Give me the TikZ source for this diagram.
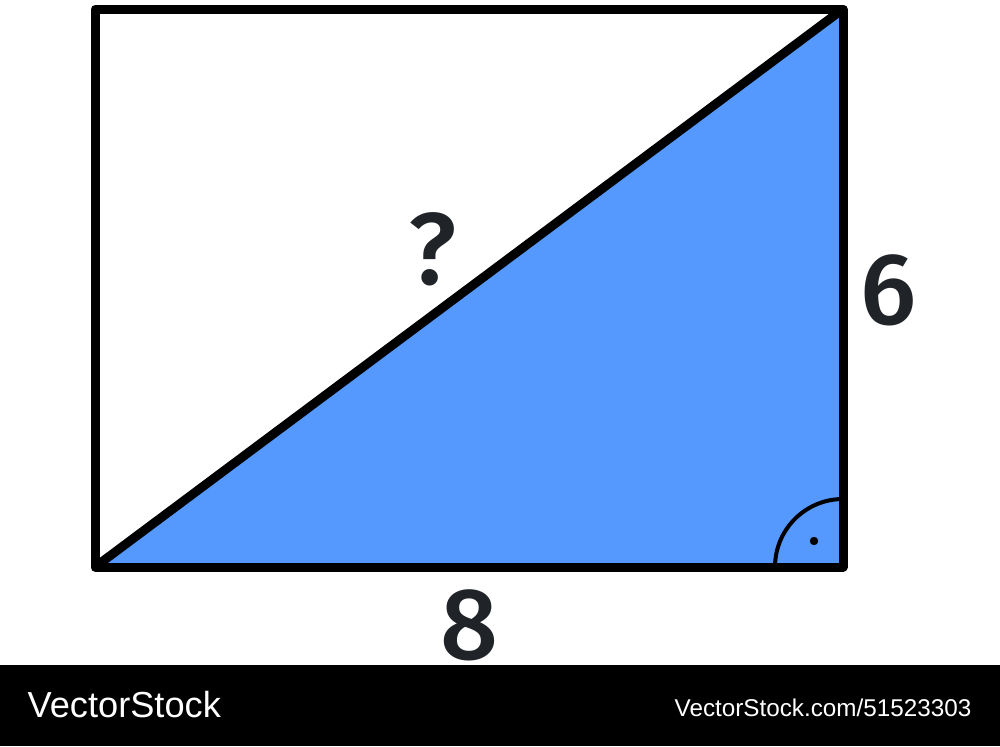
\documentclass[tikz,border=0pt]{standalone}
\usepackage{fontspec}
\setmainfont{Fira Sans}[BoldFont={Fira Sans Medium}]
\newfontfamily\wmfont{Liberation Sans}
\usepackage{tikz}
\usetikzlibrary{calc}
\definecolor{lcfill}{HTML}{5599FF}
\definecolor{lctext}{HTML}{202328}

\begin{document}
\begin{tikzpicture}[%
    x=0.1mm, y=0.1mm,           % one unit is one pixel of the reference
    line join=round
    ]
% -------------------------------------------------
% Styles for the figure
\tikzset{
  edge/.style={draw, line width=0.9mm},
  anglemark/.style={draw, line width=0.4mm},
  lbl/.style={text=lctext, font={\bfseries\fontsize{29}{29}\selectfont}},
  wm/.style={text=white, inner sep=0pt, font={\wmfont\fontsize{#1}{#1}\selectfont}},
}
\useasboundingbox (0,0) rectangle (1000,746);
% -------------------------------------------------
% Corners of the rectangle
\coordinate (ll) at (95,179);
\coordinate (lr) at (843,179);
\coordinate (ur) at (843,737);
\coordinate (ul) at (95,737);

% the shaded half
\fill [lcfill] (ll) -- (lr) -- (ur) -- cycle;

% right angle mark
\draw [anglemark] ($(lr)+(-68,0)$) arc [start angle=180, end angle=90, radius=6.8mm];
\fill (814,205) circle [radius=0.42mm];

% rectangle and diagonal
\draw [edge] (ll) -- (lr) -- (ur) -- (ul) -- cycle;
\draw [edge] (ll) -- (ur);

% -------------------------------------------------
% side labels
\node [lbl] (diag) at (433,497) {?};
\node [lbl] (side) at (889,456) {6};
\node [lbl] (base) at (469,121) {8};

% -------------------------------------------------
% footer bar
\fill [black] (0,0) rectangle (1000,81);
\node [wm=10.3, anchor=west] (logo) at (27,41) {VectorStock};
\node [wm=6.9, anchor=east] (ref) at (972,38) {VectorStock.com/51523303};
\end{tikzpicture}
\end{document}
